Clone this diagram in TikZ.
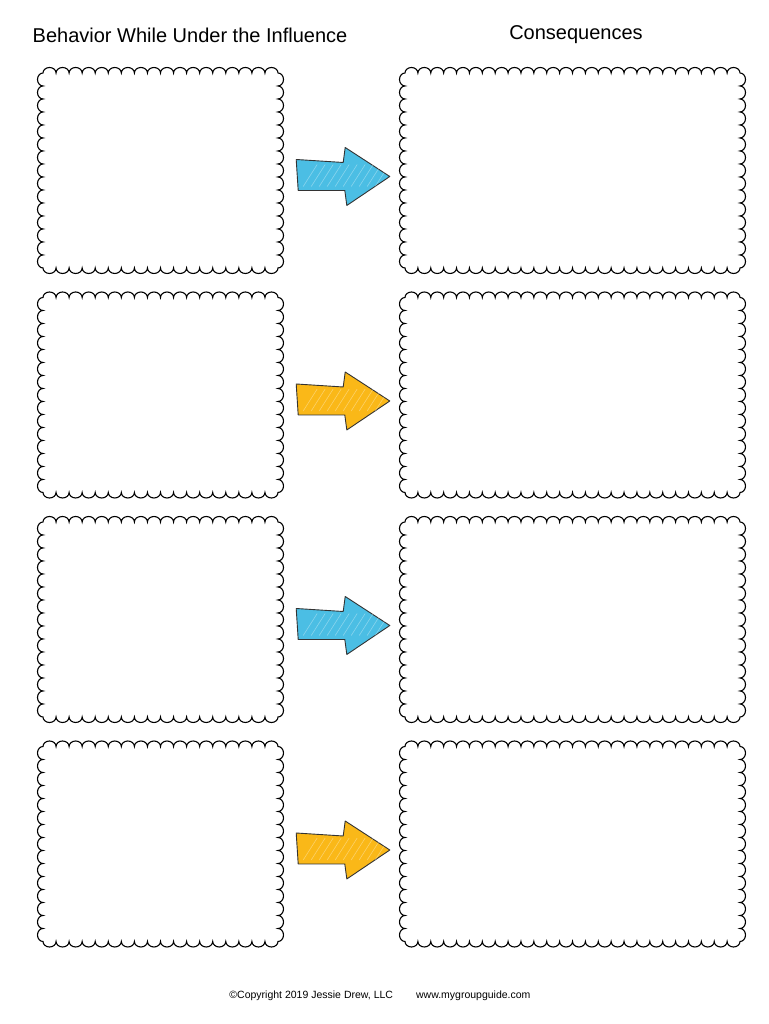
\documentclass[tikz,border=0pt]{standalone}
\usepackage{fontspec}
\setmainfont{Liberation Sans}
\definecolor{arrblue}{RGB}{75,190,228}
\definecolor{arryel}{RGB}{250,184,24}
\newcommand{\scallopbox}[4]{% x1 ytop x2 ybottom (y up)
  \pgfmathsetmacro{\sw}{#3-#1}\pgfmathsetmacro{\sh}{#2-#4}
  \pgfmathtruncatemacro{\nx}{round(\sw/13)}\pgfmathtruncatemacro{\ny}{round(\sh/13)}
  \pgfmathsetmacro{\rx}{\sw/\nx/2}\pgfmathsetmacro{\ry}{\sh/\ny/2}
  \draw[scal] (#1,#2)
    \foreach \i in {1,...,\nx}{ arc[start angle=180,end angle=0,x radius=\rx,y radius=5.5] }
    \foreach \i in {1,...,\ny}{ arc[start angle=90,end angle=-90,x radius=5.5,y radius=\ry] }
    \foreach \i in {1,...,\nx}{ arc[start angle=0,end angle=-180,x radius=\rx,y radius=5.5] }
    \foreach \i in {1,...,\ny}{ arc[start angle=-90,end angle=-270,x radius=5.5,y radius=\ry] }
    -- cycle;}
\begin{document}
\begin{tikzpicture}[x=1pt,y=1pt,
  scal/.style={line width=1.1pt,black},
  title/.style={font=\fontsize{20}{22}\selectfont},
  foot/.style={font=\fontsize{10.5}{12}\selectfont}]
\useasboundingbox[fill=white] (0,0) rectangle (768,1024);
\node[title] (t1) at (190,989) {Behavior While Under the Influence};
\node[title] (t2) at (576,989) {Consequences};
\foreach \k/\c in {0/arrblue,1/arryel,2/arrblue,3/arryel}{
  \pgfmathsetmacro{\top}{951-224.5*\k}
  \pgfmathsetmacro{\bot}{\top-195}
  \scallopbox{43}{\top}{278}{\bot}
  \scallopbox{405}{\top}{740}{\bot}
  \node[minimum width=245pt,minimum height=195pt] (L\k) at (160.5,\top-97.5) {};
  \node[minimum width=345pt,minimum height=195pt] (R\k) at (572.5,\top-97.5) {};
  \fill[\c,draw=black!80,line width=0.9pt,line join=round]
    ([shift={(13,11)}]L\k.east) -- ++(47,-3) -- ++(2,15) -- ([shift={(-10,-6)}]R\k.west)
    -- ++(-43,-29) -- ++(-2,15) -- ([shift={(15,-20)}]L\k.east) -- cycle;
  \foreach \j in {0,...,9}{
    \draw[white,opacity=0.35,line width=0.6pt]
      ([shift={(20+8*\j,-16)}]L\k.east) -- ++(14,22);}
}
\node[foot] (f) at (380,28) {©Copyright 2019 Jessie Drew, LLC\hspace{2.2em}www.mygroupguide.com};
\end{tikzpicture}
\end{document}
